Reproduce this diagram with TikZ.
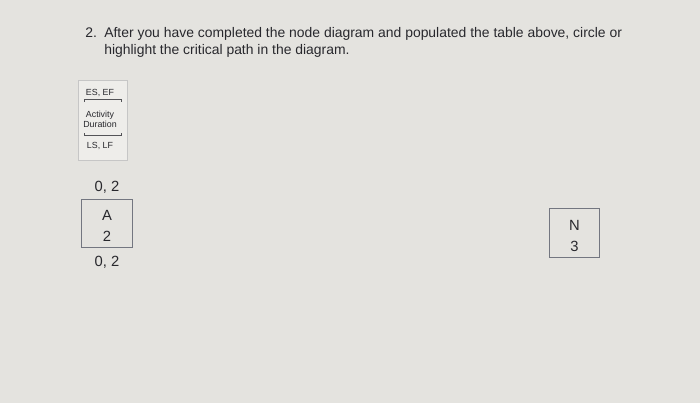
\documentclass[tikz,border=0pt]{standalone}
\usepackage{fontspec}
\setmainfont{Liberation Sans}
\definecolor{paper}{RGB}{228,227,223}
\definecolor{card}{RGB}{238,237,234}
\definecolor{ink}{RGB}{40,40,45}
\definecolor{boxline}{RGB}{115,118,128}
\begin{document}
\begin{tikzpicture}[
    x=0.025cm, y=-0.025cm,
    txt/.style={
      text=ink,
      font=\fontsize{9.9}{11}\selectfont,
      inner sep=0pt
    },
    small/.style={
      text=ink,
      font=\fontsize{6.3}{7.2}\selectfont,
      inner sep=0pt,
      align=center
    },
    num/.style={
      text=ink,
      font=\fontsize{10.5}{12}\selectfont,
      inner sep=0pt
    },
    activity/.style={
      rectangle,
      draw=boxline,
      line width=0.6pt,
      fill=paper,
      minimum width=1.27cm,
      minimum height=1.22cm
    }
  ]

  \fill[paper] (0,0) rectangle (700,403);

  % question text
  \node[txt, anchor=base west] (q2) at (85,37) {2.};
  \node[txt, anchor=base west] (l1) at (104,37)
    {After you have completed the node diagram and populated the table above, circle or};
  \node[txt, anchor=base west] (l2) at (104,54)
    {highlight the critical path in the diagram.};

  % legend card
  \node[rectangle, draw=gray!45, fill=card, minimum width=1.22cm,
    minimum height=2cm] (key) at (102.5,120) {};
  \node[small] (es) at (100,93) {ES, EF};
  \node[small] (dur) at (100,119) {Activity\\Duration};
  \node[small] (ls) at (100,146) {LS, LF};
  \draw[ink!80, line width=0.5pt] (84,102) -- (84,99.5) -- (121,99.5) -- (121,102);
  \draw[ink!80, line width=0.5pt] (84,133) -- (84,135.5) -- (121,135.5) -- (121,133);

  % activity A
  \node[num] (aes) at (107,187) {0, 2};
  \node[activity] (a) at (107,223.5) {};
  \node[num] (aname) at (107,215) {A};
  \node[num] (adur) at (107,236) {2};
  \node[num] (als) at (107,262) {0, 2};

  % activity N
  \node[activity] (n) at (574.5,233) {};
  \node[num] (nname) at (574.5,225) {N};
  \node[num] (ndur) at (574.5,246) {3};

\end{tikzpicture}
\end{document}
